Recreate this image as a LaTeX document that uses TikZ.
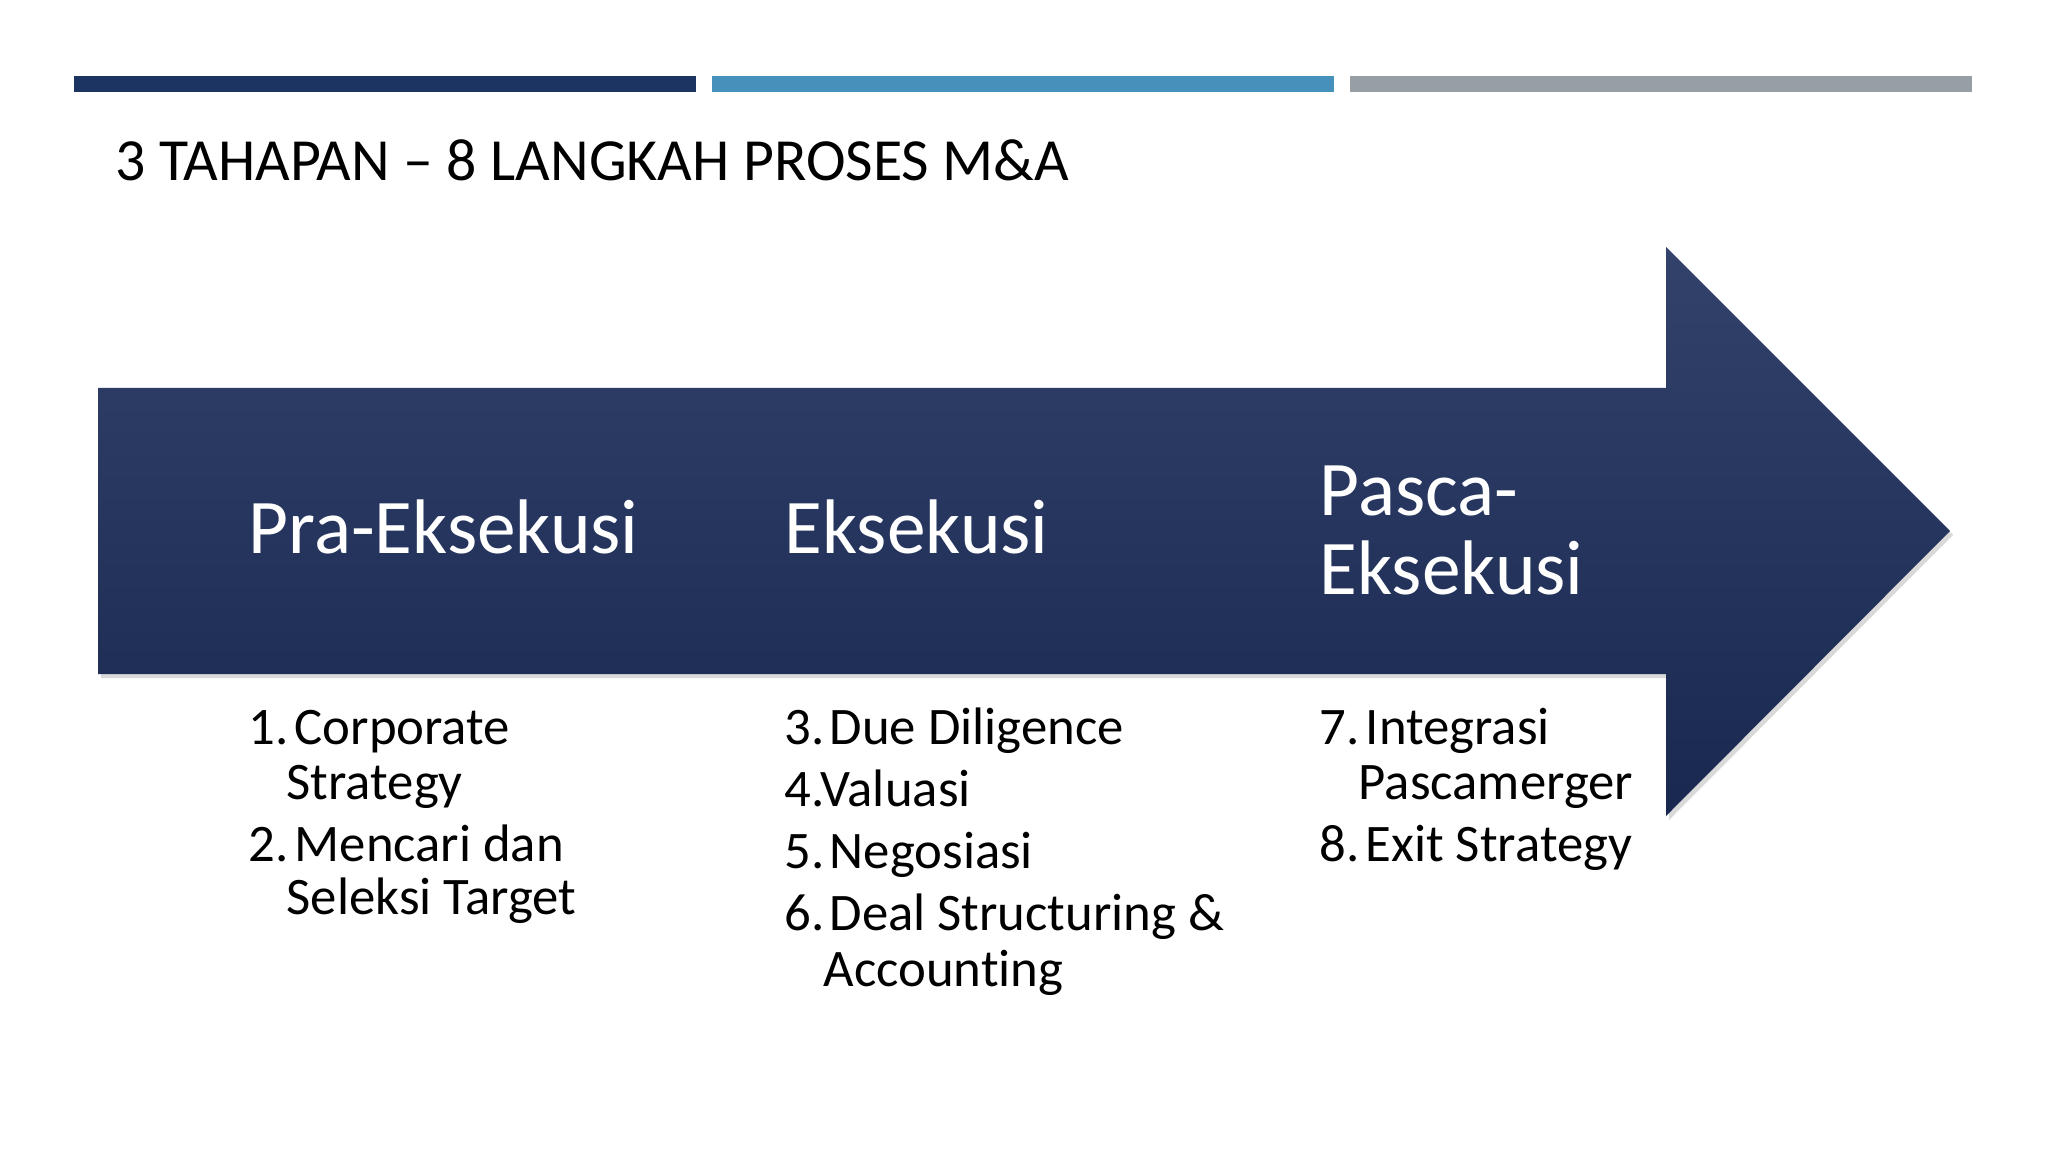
\documentclass[tikz,border=0pt]{standalone}
\usepackage{fontspec}
\setmainfont{Carlito}[Ligatures=NoCommon]
\definecolor{barnavy}{HTML}{1C3461}
\definecolor{barblue}{HTML}{4690BC}
\definecolor{bargrey}{HTML}{979FA4}
\definecolor{arrowtop}{HTML}{33426B}
\definecolor{arrowbot}{HTML}{18284F}
\begin{document}
\begin{tikzpicture}[x=0.01cm,y=-0.01cm]
\useasboundingbox (0,0) rectangle (2048,1152);

%%%%%%%%%%%%%%%%%%%% Header %%%%%%%%%%%%%%%%%%%%%%%%%%
\foreach \x/\col in {74/barnavy, 712/barblue, 1350/bargrey}
{
    \fill[\col] (\x,76) rectangle ++(622,16);
}
\node[anchor=base west, inner sep=0pt, font=\fontsize{17}{21}\selectfont] (title) at (115,181) {3 TAHAPAN -- 8 LANGKAH PROSES M\&A};

%%%%%%%%%%%%%%%%%%%% Arrow %%%%%%%%%%%%%%%%%%%%%%%%%%
\fill[black, opacity=0.15] (101,392) -- (1669,392) -- (1669,251) -- (1953,535) -- (1669,820) -- (1669,678) -- (101,678) -- cycle;
\shade[top color=arrowtop, bottom color=arrowbot] (98,388) -- (1666,388) -- (1666,247) -- (1950,531) -- (1666,816) -- (1666,674) -- (98,674) -- cycle;

%stage labels
\node[anchor=base west, inner sep=0pt, white, font=\fontsize{22}{26}\selectfont] (s1) at (248,554) {Pra-Eksekusi};
\node[anchor=base west, inner sep=0pt, white, font=\fontsize{22}{26}\selectfont] (s2) at (784,554) {Eksekusi};
\node[anchor=base west, inner sep=0pt, white, font=\fontsize{22}{26}\selectfont] (s3a) at (1319,516) {Pasca-};
\node[anchor=base west, inner sep=0pt, white, font=\fontsize{22}{26}\selectfont] (s3b) at (1319,594) {Eksekusi};

%%%%%%%%%%%%%%%%%%%% Steps %%%%%%%%%%%%%%%%%%%%%%%%%%
%step numbers
\foreach \index/\x/\y in {1/248/744, 2/248/861, 3/784/744, 4/784/806, 5/784/868, 6/784/930, 7/1319/744, 8/1319/861}
{
    \node[anchor=base west, inner sep=0pt, font=\fontsize{15}{18}\selectfont] (n\index) at (\x,\y) {\index.};
}
%step texts
\foreach \index/\x/\y/\txt in {1/294/744/Corporate, 2/294/861/Mencari dan, 3/829/744/Due Diligence, 4/820/806/Valuasi, 5/829/868/Negosiasi, 6/829/930/Deal Structuring \&, 7/1365/744/Integrasi, 8/1365/861/Exit Strategy}
{
    \node[anchor=base west, inner sep=0pt, font=\fontsize{15}{18}\selectfont] (t\index) at (\x,\y) {\txt};
}
%second lines
\foreach \index/\x/\y/\txt in {1/286/799/Strategy, 2/286/914/Seleksi Target, 6/823/986/Accounting, 7/1358/799/Pascamerger}
{
    \node[anchor=base west, inner sep=0pt, font=\fontsize{15}{18}\selectfont] (u\index) at (\x,\y) {\txt};
}

\end{tikzpicture}
\end{document}
